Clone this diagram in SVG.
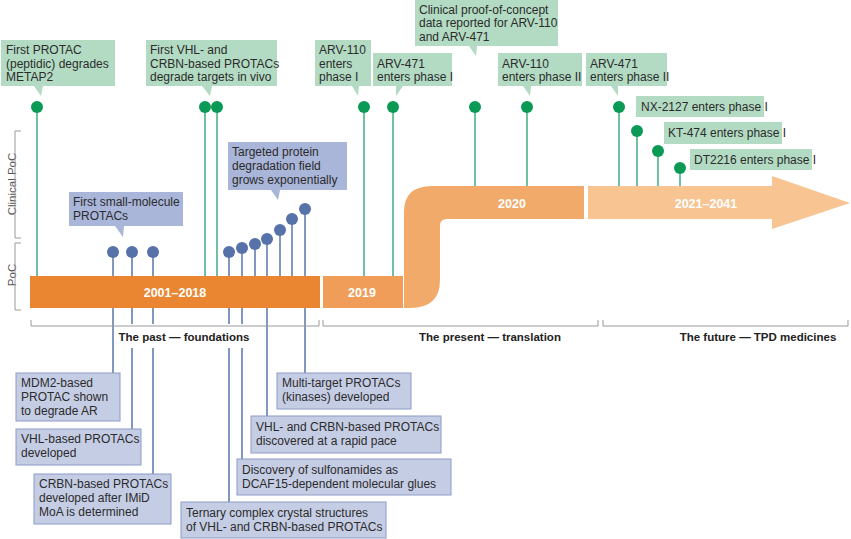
<svg xmlns="http://www.w3.org/2000/svg" width="851" height="539" viewBox="0 0 851 539">
<style>
text{font-family:"Liberation Sans",Arial,sans-serif;font-size:12px;fill:#2b2b2b}
.g{fill:#b3dbc3}
.b{fill:#c5cde5;stroke:#8d9cc6;stroke-width:1}
.gl{stroke:#3fae7f;stroke-width:1.5}
.bl{stroke:#5876aa;stroke-width:1.5}
.gd{fill:#0a9a55}
.bd{fill:#5672a8}
.yr{font-weight:bold;fill:#fff;text-anchor:middle;font-size:12.5px}
.hd{font-weight:bold;font-size:11.5px;text-anchor:middle;fill:#222}
.br{fill:none;stroke:#9a9a9a;stroke-width:1}
</style>
<rect width="851" height="539" fill="#fff"/>
<g id="axis">
<text transform="translate(16,184) rotate(-90)" text-anchor="middle" style="font-size:11.5px;fill:#555">Clinical PoC</text>
<text transform="translate(16,275) rotate(-90)" text-anchor="middle" style="font-size:11.5px;fill:#555">PoC</text>
<path class="br" d="M21,131 L15,131 L15,238 L21,238 M21,243 L15,243 L15,310 L21,310"/>
</g>
<g id="connectors">
<line class="gl" x1="37" y1="107" x2="37" y2="276"/>
<line class="gl" x1="205" y1="107" x2="205" y2="276"/>
<line class="gl" x1="217" y1="107" x2="217" y2="276"/>
<line class="gl" x1="364" y1="107" x2="364" y2="276"/>
<line class="gl" x1="393" y1="107" x2="393" y2="276"/>
<line class="gl" x1="475" y1="107" x2="475" y2="186"/>
<line class="gl" x1="527" y1="107" x2="527" y2="186"/>
<line class="gl" x1="619" y1="107" x2="619" y2="186"/>
<line class="gl" x1="637" y1="131" x2="637" y2="186"/>
<line class="gl" x1="658" y1="151" x2="658" y2="186"/>
<line class="gl" x1="680" y1="168" x2="680" y2="186"/>
<line class="bl" x1="113" y1="252" x2="113" y2="373"/>
<path class="bl" d="M132,252 V324 M132,348 V429"/>
<path class="bl" d="M153,252 V324 M153,348 V474"/>
<path class="bl" d="M229,252 V324 M229,348 V502"/>
<path class="bl" d="M242,248 V324 M242,348 V459"/>
<line class="bl" x1="255" y1="244" x2="255" y2="276"/>
<line class="bl" x1="267" y1="239" x2="267" y2="416"/>
<line class="bl" x1="280" y1="230" x2="280" y2="276"/>
<line class="bl" x1="292" y1="219" x2="292" y2="276"/>
<line class="bl" x1="305" y1="209" x2="305" y2="373"/>
</g>
<g id="bars">
<rect x="30" y="276" width="290" height="32" fill="#ea8632"/>
<text class="yr" x="175" y="297">2001–2018</text>
<rect x="323" y="276" width="80" height="32" fill="#ef9d58"/>
<text class="yr" x="362" y="297">2019</text>
<path d="M404,308 L404,212 Q404,186 432,186 L584,186 L584,219 L447,219 Q440,219 440,226 L440,280 Q440,308 410,308 Z" fill="#f2aa6b"/>
<text class="yr" x="512" y="208">2020</text>
<path d="M588,186 L772,186 L772,176 L850,203 L772,229 L772,219 L588,219 Z" fill="#f8c491"/>
<text class="yr" x="706" y="208">2021–2041</text>
</g>
<g id="brackets">
<path class="br" d="M31,320 V326 H319 V320 M323,320 V326 H598 V320 M603,320 V326 H848 V320"/>
<text class="hd" x="184" y="341">The past — foundations</text>
<text class="hd" x="490" y="341">The present — translation</text>
<text class="hd" x="758" y="341">The future — TPD medicines</text>
</g>
<g id="dots">
<circle class="gd" cx="37" cy="107" r="6"/><circle class="gd" cx="205" cy="107" r="6"/><circle class="gd" cx="217" cy="107" r="6"/>
<circle class="gd" cx="364" cy="107" r="6"/><circle class="gd" cx="393" cy="107" r="6"/><circle class="gd" cx="475" cy="107" r="6"/>
<circle class="gd" cx="527" cy="107" r="6"/><circle class="gd" cx="619" cy="107" r="6"/><circle class="gd" cx="637" cy="131" r="6"/>
<circle class="gd" cx="658" cy="151" r="6"/><circle class="gd" cx="680" cy="168" r="6"/>
<circle class="bd" cx="113" cy="252" r="6"/><circle class="bd" cx="132" cy="252" r="6"/><circle class="bd" cx="153" cy="252" r="6"/>
<circle class="bd" cx="229" cy="252" r="6"/><circle class="bd" cx="242" cy="248" r="6"/><circle class="bd" cx="255" cy="244" r="6"/>
<circle class="bd" cx="267" cy="239" r="6"/><circle class="bd" cx="280" cy="230" r="6"/><circle class="bd" cx="292" cy="219" r="6"/>
<circle class="bd" cx="305" cy="209" r="6"/>
</g>
<g id="n1"><path class="g" d="M1,40 H115 V86 H43 L41,96 L34,86 H1 Z"/><text x="6" y="54">First PROTAC</text><text x="6" y="68">(peptidic) degrades</text><text x="6" y="81">METAP2</text></g>
<g id="n2"><path class="g" d="M146,40 H277 V86 H212 L210,96 L202,86 H146 Z"/><text x="150" y="54">First VHL- and</text><text x="150" y="68">CRBN-based PROTACs</text><text x="150" y="81">degrade targets in vivo</text></g>
<g id="n3"><path class="g" d="M315,40 H371 V86 H359 L358,96 L352,86 H315 Z"/><text x="319" y="54">ARV-110</text><text x="319" y="68">enters</text><text x="319" y="81">phase I</text></g>
<g id="n4"><path class="g" d="M373,53 H452 V86 H403 L396,96 L396,86 H373 Z"/><text x="377" y="68">ARV-471</text><text x="377" y="81">enters phase I</text></g>
<g id="n5"><path class="g" d="M415,0 H558 V46 H477 L476,56 L469,46 H415 Z"/><text x="419" y="14">Clinical proof-of-concept</text><text x="419" y="27">data reported for ARV-110</text><text x="419" y="41">and ARV-471</text></g>
<g id="n6"><path class="g" d="M498,53 H582 V86 H531 L530,96 L523,86 H498 Z"/><text x="502" y="68">ARV-110</text><text x="502" y="81">enters phase II</text></g>
<g id="n7"><path class="g" d="M586,53 H667 V86 H618 L618,96 L611,86 H586 Z"/><text x="590" y="68">ARV-471</text><text x="590" y="81">enters phase II</text></g>
<g id="n8"><rect class="g" x="636" y="96" width="128" height="21"/><text x="641" y="111">NX-2127 enters phase I</text></g>
<g id="n9"><rect class="g" x="664" y="122" width="118" height="22"/><text x="668" y="137">KT-474 enters phase I</text></g>
<g id="n10"><rect class="g" x="690" y="149" width="122" height="21"/><text x="694" y="164">DT2216 enters phase I</text></g>
<g id="n11"><path d="M69,192 H183 V226 H124 L123,237 L115,226 H69 Z" fill="#a9b5d9"/><text x="73" y="206">First small-molecule</text><text x="73" y="220">PROTACs</text></g>
<g id="n12"><path d="M228,142 H347 V190 H280 L278,200 L271,190 H228 Z" fill="#a9b5d9"/><text x="232" y="156">Targeted protein</text><text x="232" y="170">degradation field</text><text x="232" y="184">grows exponentially</text></g>
<g id="n13"><rect class="b" x="16" y="373" width="104" height="48"/><text x="21" y="387">MDM2-based</text><text x="21" y="401">PROTAC shown</text><text x="21" y="415">to degrade AR</text></g>
<g id="n14"><rect class="b" x="16" y="429" width="125" height="36"/><text x="21" y="443">VHL-based PROTACs</text><text x="21" y="457">developed</text></g>
<g id="n15"><rect class="b" x="34" y="474" width="137" height="50"/><text x="39" y="488">CRBN-based PROTACs</text><text x="39" y="502">developed after IMiD</text><text x="39" y="516">MoA is determined</text></g>
<g id="n16"><rect class="b" x="277" y="373" width="134" height="36"/><text x="282" y="387">Multi-target PROTACs</text><text x="282" y="401">(kinases) developed</text></g>
<g id="n17"><rect class="b" x="251" y="416" width="190" height="37"/><text x="256" y="431">VHL- and CRBN-based PROTACs</text><text x="256" y="445">discovered at a rapid pace</text></g>
<g id="n18"><rect class="b" x="237" y="459" width="214" height="36"/><text x="242" y="474">Discovery of sulfonamides as</text><text x="242" y="488">DCAF15-dependent molecular glues</text></g>
<g id="n19"><rect class="b" x="181" y="502" width="205" height="36"/><text x="186" y="517">Ternary complex crystal structures</text><text x="186" y="531">of VHL- and CRBN-based PROTACs</text></g>
</svg>
